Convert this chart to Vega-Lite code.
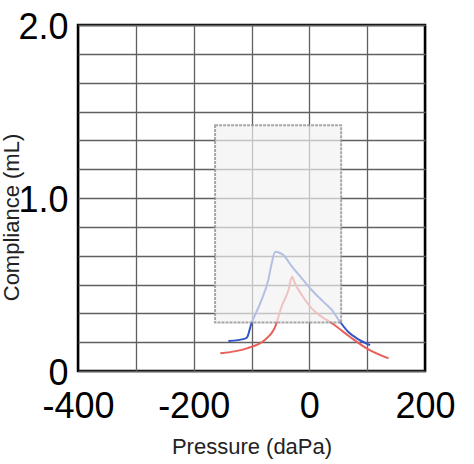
{
  "$schema": "https://vega.github.io/schema/vega-lite/v6.json",
  "autosize": "none",
  "width": 347,
  "height": 346,
  "padding": {"left": 78, "top": 25, "right": 49, "bottom": 93},
  "background": "white",
  "datasets": {
    "curves": [
      {"ear": "blue", "i": 1, "pressure": -140, "compliance": 0.173},
      {"ear": "blue", "i": 2, "pressure": -111, "compliance": 0.187},
      {"ear": "blue", "i": 3, "pressure": -107, "compliance": 0.198},
      {"ear": "blue", "i": 4, "pressure": -101, "compliance": 0.266},
      {"ear": "blue", "i": 5, "pressure": -85, "compliance": 0.391},
      {"ear": "blue", "i": 6, "pressure": -71, "compliance": 0.526},
      {"ear": "blue", "i": 7, "pressure": -65, "compliance": 0.623},
      {"ear": "blue", "i": 8, "pressure": -59, "compliance": 0.69},
      {"ear": "blue", "i": 9, "pressure": -54, "compliance": 0.686},
      {"ear": "blue", "i": 10, "pressure": -45, "compliance": 0.671},
      {"ear": "blue", "i": 11, "pressure": -30, "compliance": 0.603},
      {"ear": "blue", "i": 12, "pressure": -13, "compliance": 0.536},
      {"ear": "blue", "i": 13, "pressure": 4, "compliance": 0.468},
      {"ear": "blue", "i": 14, "pressure": 24, "compliance": 0.401},
      {"ear": "blue", "i": 15, "pressure": 39, "compliance": 0.353},
      {"ear": "blue", "i": 16, "pressure": 53, "compliance": 0.285},
      {"ear": "blue", "i": 17, "pressure": 67, "compliance": 0.227},
      {"ear": "blue", "i": 18, "pressure": 82, "compliance": 0.189},
      {"ear": "blue", "i": 19, "pressure": 105, "compliance": 0.15},
      {"ear": "red", "i": 1, "pressure": -154, "compliance": 0.102},
      {"ear": "red", "i": 2, "pressure": -108, "compliance": 0.131},
      {"ear": "red", "i": 3, "pressure": -77, "compliance": 0.179},
      {"ear": "red", "i": 4, "pressure": -59, "compliance": 0.256},
      {"ear": "red", "i": 5, "pressure": -48, "compliance": 0.372},
      {"ear": "red", "i": 6, "pressure": -36, "compliance": 0.468},
      {"ear": "red", "i": 7, "pressure": -30, "compliance": 0.545},
      {"ear": "red", "i": 8, "pressure": -25, "compliance": 0.507},
      {"ear": "red", "i": 9, "pressure": -13, "compliance": 0.439},
      {"ear": "red", "i": 10, "pressure": 4, "compliance": 0.362},
      {"ear": "red", "i": 11, "pressure": 21, "compliance": 0.314},
      {"ear": "red", "i": 12, "pressure": 39, "compliance": 0.276},
      {"ear": "red", "i": 13, "pressure": 70, "compliance": 0.198},
      {"ear": "red", "i": 14, "pressure": 99, "compliance": 0.131},
      {"ear": "red", "i": 15, "pressure": 137, "compliance": 0.073}
    ],
    "normal": [
      {"p1": -163, "p2": 55, "c1": 0.28, "c2": 1.42}
    ]
  },
  "layer": [
    {
      "data": {"name": "curves"},
      "mark": {"type": "line", "strokeWidth": 2, "clip": true, "interpolate": "monotone"},
      "encoding": {
        "x": {
          "field": "pressure",
          "type": "quantitative",
          "title": "Pressure (daPa)",
          "scale": {"domain": [-400, 200], "nice": false, "zero": false},
          "axis": {
            "values": [-400, -300, -200, -100, 0, 100, 200],
            "tickCount": 20,
            "labelExpr": "datum.value % 200 != 0 ? '' : (datum.value < 0 ? '-' + abs(datum.value) : '' + datum.value)",
            "labelFlush": false,
            "labelOverlap": false,
            "labelPadding": 18,
            "titleY": 82,
            "titleBaseline": "alphabetic"
          }
        },
        "y": {
          "field": "compliance",
          "type": "quantitative",
          "title": "Compliance (mL)",
          "scale": {"domain": [0, 2], "nice": false, "zero": false},
          "axis": {
            "values": [0, 0.16667, 0.33333, 0.5, 0.66667, 0.83333, 1, 1.16667, 1.33333, 1.5, 1.66667, 1.83333, 2],
            "tickCount": 20,
            "labelExpr": "datum.value == 0 ? '0' : (abs(datum.value - 1) < 0.001 ? '1.0' : (abs(datum.value - 2) < 0.001 ? '2.0' : ''))",
            "labelFlush": false,
            "labelOverlap": false,
            "labelPadding": 10,
            "labelBaseline": "middle",
            "labelOffset": 2,
            "titleX": -55,
            "titleY": 192,
            "titleBaseline": "bottom"
          }
        },
        "color": {
          "field": "ear",
          "type": "nominal",
          "legend": null,
          "scale": {"domain": ["blue", "red"], "range": ["#2f55c9", "#e8605c"]}
        },
        "order": {"field": "i", "type": "quantitative"}
      }
    },
    {
      "data": {"name": "normal"},
      "mark": {
        "type": "rect",
        "fill": "#f2f2f2",
        "fillOpacity": 0.68,
        "stroke": "#8c8c8c",
        "strokeWidth": 2,
        "strokeDash": [3, 1],
        "strokeOpacity": 0.75
      },
      "encoding": {
        "x": {"field": "p1", "type": "quantitative"},
        "x2": {"field": "p2"},
        "y": {"field": "c1", "type": "quantitative"},
        "y2": {"field": "c2"}
      }
    }
  ],
  "config": {
    "font": "Liberation Sans",
    "view": {"stroke": "black", "strokeWidth": 2.5},
    "axis": {
      "grid": true,
      "gridColor": {
        "condition": {"test": "datum.value == -400 || datum.value == 200", "value": "#000000"},
        "value": "#606060"
      },
      "gridWidth": 1.3,
      "gridOpacity": 1,
      "ticks": false,
      "domain": false,
      "labelFont": "Liberation Sans",
      "labelFontSize": 36,
      "labelColor": "#000000",
      "titleFont": "Liberation Sans",
      "titleFontSize": 22,
      "titleFontWeight": "normal",
      "titleColor": "#222222"
    }
  }
}
